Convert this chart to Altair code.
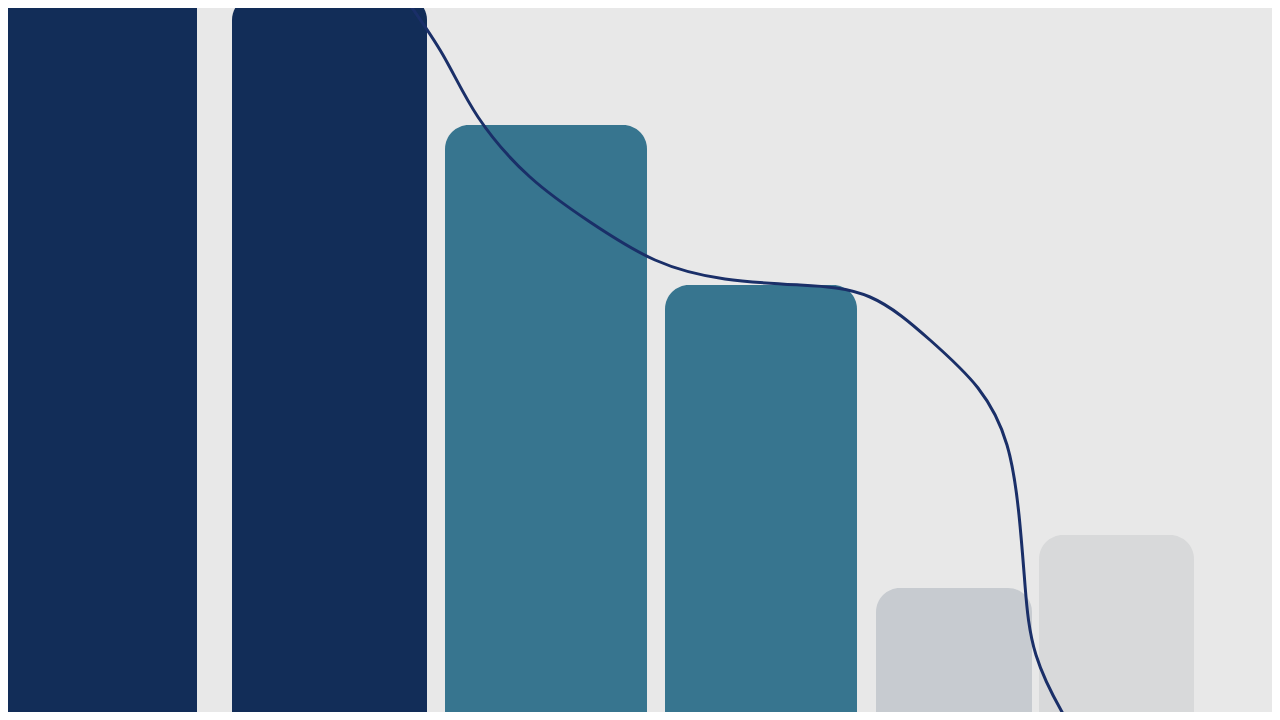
import altair as alt
import pandas as pd

# Bars (variable-width bins)
categories = ["A", "B", "C", "D", "E", "F"]
bin_start = [-10, 232, 445, 665, 876, 1039]
bin_end = [197, 427, 647, 857, 1032, 1194]
values = [760, 724, 595, 435, 132, 185]
palette = ["#122d58", "#122d58", "#37758f", "#37758f", "#c7cbd0", "#d8d9da"]

# Trend curve
curve_x = [403, 443, 478, 530, 590, 655, 725, 800, 870, 930, 978, 1007, 1019, 1025, 1036, 1062, 1070]
curve_y = [725, 665, 603, 543, 498, 460, 441, 435, 423, 380, 332, 275, 205, 135, 65, 8, -5]

bars_df = pd.DataFrame({"cat": categories, "start": bin_start, "end": bin_end, "value": values})
line_df = pd.DataFrame({"lx": curve_x, "ly": curve_y})

xscale = alt.Scale(domain=[8, 1272], zero=False, nice=False)
yscale = alt.Scale(domain=[8, 712], zero=False, nice=False)

bars = alt.Chart(bars_df).mark_bar(
    clip=True, cornerRadiusTopLeft=24, cornerRadiusTopRight=24
).encode(
    x=alt.X("start:Q", scale=xscale, axis=None),
    x2="end:Q",
    y=alt.Y("value:Q", scale=yscale, axis=None),
    y2=alt.datum(0),
    color=alt.Color("cat:N", scale=alt.Scale(domain=categories, range=palette), legend=None),
)

line = alt.Chart(line_df).mark_line(
    clip=True, interpolate="natural", color="#1a2f68", strokeWidth=3
).encode(
    x=alt.X("lx:Q", scale=xscale, axis=None),
    y=alt.Y("ly:Q", scale=yscale, axis=None),
)

chart = alt.layer(bars, line).properties(
    width=1264, height=704, background="#e8e8e8", padding=0,
    autosize=alt.AutoSizeParams(type="none"),
).configure_view(stroke=None)

chart.save("out.html", embed_options={"renderer": "svg", "actions": False})
